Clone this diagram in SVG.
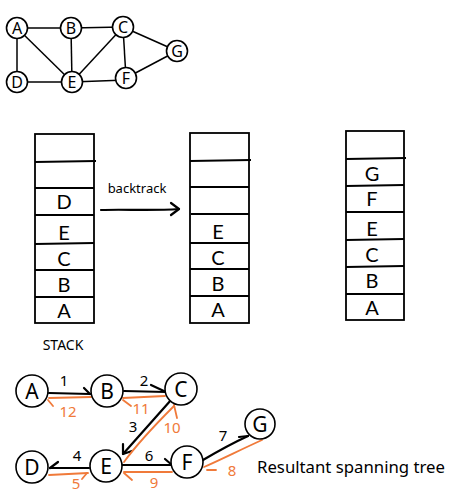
<svg xmlns="http://www.w3.org/2000/svg" width="474" height="493" viewBox="0 0 474 493">
<style>
.bg{fill:#fff}
.n{fill:#fff;stroke:#000;stroke-width:1.6}
.e{stroke:#000;stroke-width:1.5;fill:none}
.t{font-family:"Noto Sans","Open Sans",sans-serif;fill:#000;text-anchor:middle;dominant-baseline:central}
.sk{font-family:Lato,"Noto Sans",sans-serif;fill:#000;text-anchor:middle;dominant-baseline:central;font-size:20px}
.st{fill:#fff;stroke:#000;stroke-width:1.8}
.sl{stroke:#000;stroke-width:1.8}
.bk{stroke:#000;stroke-width:2.2;fill:none;stroke-linecap:round;stroke-linejoin:round}
.or{stroke:#f07a3a;stroke-width:1.8;fill:none;stroke-linecap:round;stroke-linejoin:round}
.ot{font-family:"Noto Sans","Open Sans",sans-serif;fill:#f07a3a;text-anchor:middle;dominant-baseline:central;font-size:15px}
.lt{font-family:"Noto Sans","Open Sans",sans-serif;fill:#000;text-anchor:middle;dominant-baseline:central;font-size:15px}
</style>
<rect class="bg" width="474" height="493"/>

<g id="top-edges">
<line class="e" x1="17" y1="28" x2="71" y2="28"/>
<line class="e" x1="71" y1="28" x2="123" y2="27"/>
<line class="e" x1="17" y1="28" x2="17" y2="82"/>
<line class="e" x1="17" y1="28" x2="72" y2="82"/>
<line class="e" x1="71" y1="28" x2="72" y2="82"/>
<line class="e" x1="17" y1="82" x2="72" y2="82"/>
<line class="e" x1="72" y1="82" x2="126" y2="80"/>
<line class="e" x1="72" y1="82" x2="123" y2="27"/>
<line class="e" x1="123" y1="27" x2="126" y2="78"/>
<line class="e" x1="123" y1="27" x2="177" y2="51"/>
<line class="e" x1="126" y1="78" x2="177" y2="51"/>
</g>
<g id="tA"><circle class="n" cx="17" cy="28" r="10.5"/><text class="t" x="17" y="28" font-size="16">A</text></g>
<g id="tB"><circle class="n" cx="71" cy="28" r="10.5"/><text class="t" x="71" y="28" font-size="16">B</text></g>
<g id="tC"><circle class="n" cx="123" cy="27" r="10.5"/><text class="t" x="123" y="27" font-size="16">C</text></g>
<g id="tG"><circle class="n" cx="177" cy="51" r="10.5"/><text class="t" x="177" y="51" font-size="16">G</text></g>
<g id="tD"><circle class="n" cx="17" cy="82" r="10.5"/><text class="t" x="17" y="82" font-size="16">D</text></g>
<g id="tE"><circle class="n" cx="72" cy="82" r="10.5"/><text class="t" x="72" y="82" font-size="16">E</text></g>
<g id="tF"><circle class="n" cx="126" cy="78" r="10.5"/><text class="t" x="126" y="78" font-size="16">F</text></g>

<g id="stack1">
<rect class="st" x="35" y="134" width="59" height="189"/>
<line class="sl" x1="35" y1="162" x2="96" y2="161"/>
<line class="sl" x1="35" y1="188" x2="94" y2="188"/>
<line class="sl" x1="35" y1="215" x2="94" y2="215"/>
<line class="sl" x1="35" y1="244" x2="94" y2="243"/>
<line class="sl" x1="35" y1="270" x2="94" y2="270"/>
<line class="sl" x1="35" y1="297" x2="94" y2="297"/>
<text class="sk" x="64" y="201">D</text>
<text class="sk" x="64" y="232">E</text>
<text class="sk" x="64" y="258">C</text>
<text class="sk" x="64" y="284">B</text>
<text class="sk" x="64" y="310">A</text>
<text class="t" x="63" y="344" font-size="14">STACK</text>
</g>

<g id="backtrack">
<text class="t" x="137" y="188" font-size="13">backtrack</text>
<path class="bk" d="M101 210 C125 209 150 211 179 209"/>
<path class="bk" d="M171 203 L179 209 L171 215"/>
</g>

<g id="stack2">
<rect class="st" x="190" y="133" width="59" height="190"/>
<line class="sl" x1="190" y1="161" x2="251" y2="160"/>
<line class="sl" x1="190" y1="187" x2="249" y2="187"/>
<line class="sl" x1="191" y1="214" x2="249" y2="214"/>
<line class="sl" x1="190" y1="243" x2="249" y2="243"/>
<line class="sl" x1="190" y1="269" x2="249" y2="269"/>
<line class="sl" x1="190" y1="296" x2="249" y2="296"/>
<text class="sk" x="218" y="231">E</text>
<text class="sk" x="218" y="257">C</text>
<text class="sk" x="218" y="283">B</text>
<text class="sk" x="218" y="309">A</text>
</g>

<g id="stack3">
<rect class="st" x="346" y="131" width="58" height="189"/>
<line class="sl" x1="346" y1="159" x2="406" y2="158"/>
<line class="sl" x1="346" y1="186" x2="404" y2="185"/>
<line class="sl" x1="346" y1="212" x2="404" y2="212"/>
<line class="sl" x1="346" y1="240" x2="404" y2="239"/>
<line class="sl" x1="346" y1="267" x2="404" y2="266"/>
<line class="sl" x1="346" y1="294" x2="404" y2="294"/>
<text class="sk" x="372" y="173">G</text>
<text class="sk" x="372" y="198">F</text>
<text class="sk" x="372" y="228">E</text>
<text class="sk" x="372" y="254">C</text>
<text class="sk" x="372" y="280">B</text>
<text class="sk" x="372" y="307">A</text>
</g>

<g id="tree-edges">
<path class="bk" d="M49 393 L90 394"/><path class="bk" d="M84 388 L90 394"/>
<path class="bk" d="M124 391 L166 392"/><path class="bk" d="M151 385 L166 392"/>
<path class="bk" d="M171 400 L123 454"/><path class="bk" d="M123 444 L123 454 L132 451"/>
<path class="bk" d="M89 468 L50 468"/><path class="bk" d="M58 462 L50 468"/>
<path class="bk" d="M122 465 L172 465"/><path class="bk" d="M165 459 L172 465"/>
<path class="bk" d="M203 460 C220 450 235 442 248 436"/><path class="bk" d="M239 437 L248 436"/>
<path class="or" d="M91 397 L49 398"/><path class="or" d="M48 400 L53 406"/>
<path class="or" d="M165 396 L123 398"/><path class="or" d="M123 400 L131 406"/>
<path class="or" d="M124 462 C140 440 160 420 174 406"/><path class="or" d="M174 405 L177 418"/>
<path class="or" d="M49 475 L88 473"/><path class="or" d="M87 473 L82 479"/>
<path class="or" d="M172 472 L124 472"/><path class="or" d="M124 473 L132 480"/>
<path class="or" d="M262 440 C240 450 220 460 204 467"/><path class="or" d="M207 470 L216 470"/>
</g>
<g id="edge-labels">
<text class="lt" x="64" y="380">1</text>
<text class="lt" x="144" y="380">2</text>
<text class="lt" x="133" y="426">3</text>
<text class="lt" x="77" y="455">4</text>
<text class="lt" x="149" y="455">6</text>
<text class="lt" x="223" y="435">7</text>
<text class="ot" x="68" y="411">12</text>
<text class="ot" x="141" y="408">11</text>
<text class="ot" x="172" y="427">10</text>
<text class="ot" x="76" y="483">5</text>
<text class="ot" x="154" y="482">9</text>
<text class="ot" x="232" y="470">8</text>
</g>

<g id="bA"><circle class="n" cx="32" cy="391" r="16"/><text class="t" x="32" y="391" font-size="21">A</text></g>
<g id="bB"><circle class="n" cx="107" cy="391" r="16"/><text class="t" x="107" y="391" font-size="21">B</text></g>
<g id="bC"><circle class="n" cx="181" cy="389" r="16"/><text class="t" x="181" y="389" font-size="21">C</text></g>
<g id="bG"><circle class="n" cx="260" cy="424" r="15"/><text class="t" x="260" y="424" font-size="21">G</text></g>
<g id="bD"><circle class="n" cx="32" cy="467" r="16"/><text class="t" x="32" y="467" font-size="21">D</text></g>
<g id="bE"><circle class="n" cx="106" cy="466" r="16"/><text class="t" x="106" y="466" font-size="21">E</text></g>
<g id="bF"><circle class="n" cx="187" cy="462" r="16"/><text class="t" x="187" y="462" font-size="21">F</text></g>

<text class="t" x="351" y="467" font-size="16" textLength="188" lengthAdjust="spacingAndGlyphs">Resultant spanning tree</text>
</svg>
